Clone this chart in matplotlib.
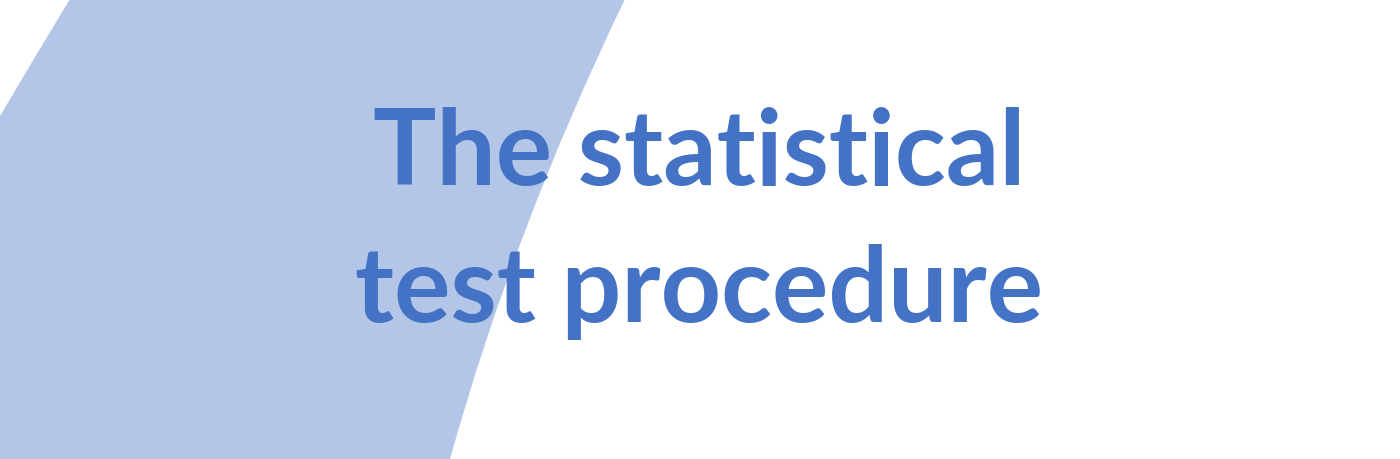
import matplotlib.pyplot as plt
from matplotlib.path import Path
from matplotlib.patches import PathPatch

# slide title lines
title_lines = ["The statistical", "test procedure"]
title_baselines = [185, 322]

# outline of the pale band (pixel coords, y down)
band_left = [(0, 117), (36, 56), (70, 0)]        # quadratic bezier
band_right = [(625, 0), (514, 230), (450, 460)]  # quadratic bezier

band_color = "#B4C6E7"
text_color = "#4472C4"

fig = plt.figure(figsize=(14, 4.6), dpi=100)
ax = fig.add_axes([0, 0, 1, 1])
ax.set_xlim(0, 1400)
ax.set_ylim(460, 0)
ax.axis("off")

verts = [band_left[0], band_left[1], band_left[2],
         band_right[0], band_right[1], band_right[2],
         (0, 460), band_left[0]]
codes = [Path.MOVETO, Path.CURVE3, Path.CURVE3,
         Path.LINETO, Path.CURVE3, Path.CURVE3,
         Path.LINETO, Path.CLOSEPOLY]
ax.add_patch(PathPatch(Path(verts, codes), facecolor=band_color,
                       edgecolor="none"))

for line, yb in zip(title_lines, title_baselines):
    ax.text(699, yb, line, ha="center", va="baseline", fontsize=76,
            fontweight="bold", family="Lato", color=text_color)

fig.savefig("out.png", dpi=100)
